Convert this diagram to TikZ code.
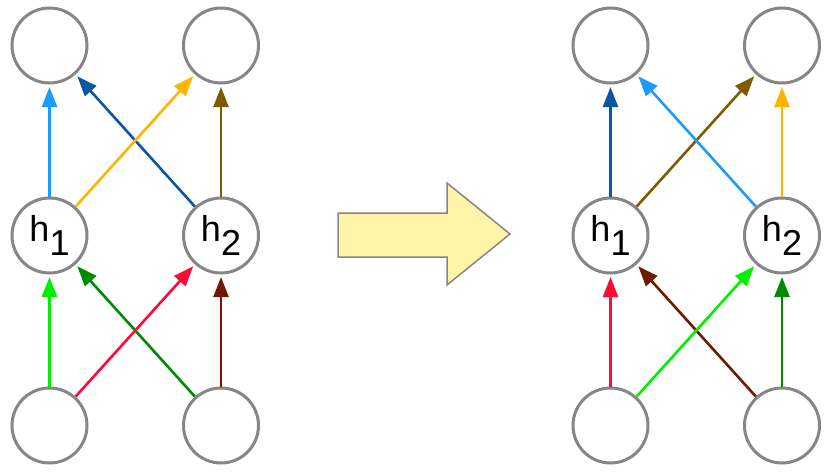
\documentclass[tikz,border=0pt]{standalone}
\usepackage{fontspec}
\setmainfont{Liberation Sans}
\usepackage{xcolor}
\usepackage{tikz}
\usetikzlibrary{arrows.meta, positioning}

\definecolor{ringgray}{HTML}{868686}
\definecolor{lime}{HTML}{00F000}
\definecolor{darkgreen}{HTML}{008A00}
\definecolor{brightred}{HTML}{FF0A36}
\definecolor{darkbrown}{HTML}{701800}
\definecolor{lightblue}{HTML}{1C9BFF}
\definecolor{darkblue}{HTML}{0A56A6}
\definecolor{amber}{HTML}{FFB400}
\definecolor{ochre}{HTML}{7F5A00}
\definecolor{paleyellow}{HTML}{FFF4A8}

\begin{document}
\begin{tikzpicture}[x=1pt, y=-1pt, node distance=112pt and 93.5pt, >={Triangle[length=20pt, width=15pt]}]
    \tikzset{
        unit/.style={circle, draw=ringgray, line width=3pt, fill=white, minimum size=75pt, inner sep=0pt, font=\fontsize{36}{42}\selectfont},
        link/.style={draw, ->, line width=2.6pt, shorten >=2.5pt},
        bigarrow/.style={draw=ringgray, line width=1.5pt, fill=paleyellow, line join=miter}
    }
    \useasboundingbox (0,0) rectangle (830,472);

    % left network
    \node (LIn1) [unit] at (49.5,425.5) {};
    \node (LIn2) [unit, right=of LIn1] {};
    \node (LH1) [unit, above=of LIn1] {h\raisebox{-14pt}{1}};
    \node (LH2) [unit, above=of LIn2] {h\raisebox{-14pt}{2}};
    \node (LOut1) [unit, above=of LH1] {};
    \node (LOut2) [unit, above=of LH2] {};

    \path [link, lime] (LIn1) -- (LH1);
    \path [link, darkgreen] (LIn2) -- (LH1);
    \path [link, brightred] (LIn1) -- (LH2);
    \path [link, darkbrown] (LIn2) -- (LH2);
    \path [link, lightblue] (LH1) -- (LOut1);
    \path [link, darkblue] (LH2) -- (LOut1);
    \path [link, amber] (LH1) -- (LOut2);
    \path [link, ochre] (LH2) -- (LOut2);

    % arrow in between
    \draw [bigarrow] (338,213) -- (447,213) -- (447,183) -- (510,234)
        -- (447,285) -- (447,257) -- (338,257) -- cycle;

    % right network
    \node (RIn1) [unit] at (610.5,425.5) {};
    \node (RIn2) [unit, right=of RIn1] {};
    \node (RH1) [unit, above=of RIn1] {h\raisebox{-14pt}{1}};
    \node (RH2) [unit, above=of RIn2] {h\raisebox{-14pt}{2}};
    \node (ROut1) [unit, above=of RH1] {};
    \node (ROut2) [unit, above=of RH2] {};

    \path [link, brightred] (RIn1) -- (RH1);
    \path [link, darkbrown] (RIn2) -- (RH1);
    \path [link, lime] (RIn1) -- (RH2);
    \path [link, darkgreen] (RIn2) -- (RH2);
    \path [link, darkblue] (RH1) -- (ROut1);
    \path [link, ochre] (RH1) -- (ROut2);
    \path [link, lightblue] (RH2) -- (ROut1);
    \path [link, amber] (RH2) -- (ROut2);

\end{tikzpicture}
\end{document}
